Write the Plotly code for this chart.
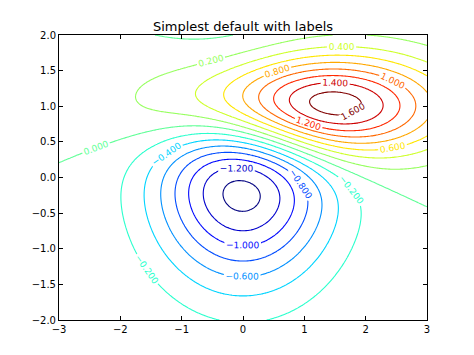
import numpy as np
import plotly.graph_objects as go

# Field described by two Gaussian bumps (difference of Gaussians), parameters
neg_center = [0.0, 0.0]
neg_sigma = [1.0, 1.0]
pos_center = [1.0, 1.0]
pos_sigma = [1.5, 0.5]
amplitude = 10.0
x_range = [-3.0, 3.0]
y_range = [-2.0, 2.0]
step = 0.025

level_start, level_end, level_step = -1.4, 1.6, 0.2
x_ticks = [-3, -2, -1, 0, 1, 2, 3]
y_ticks = [-2.0, -1.5, -1.0, -0.5, 0.0, 0.5, 1.0, 1.5, 2.0]


def bivariate(X, Y, sx, sy, mx, my):
    return np.exp(-0.5 * (((X - mx) / sx) ** 2 + ((Y - my) / sy) ** 2)) / (2 * np.pi * sx * sy)


x = np.arange(x_range[0], x_range[1] + step / 2, step)
y = np.arange(y_range[0], y_range[1] + step / 2, step)
X, Y = np.meshgrid(x, y)
Z = amplitude * (bivariate(X, Y, pos_sigma[0], pos_sigma[1], pos_center[0], pos_center[1])
                 - bivariate(X, Y, neg_sigma[0], neg_sigma[1], neg_center[0], neg_center[1]))

# matplotlib "jet"
red = [(0, 0), (0.35, 0), (0.66, 1), (0.89, 1), (1, 0.5)]
green = [(0, 0), (0.125, 0), (0.375, 1), (0.64, 1), (0.91, 0), (1, 0)]
blue = [(0, 0.5), (0.11, 1), (0.34, 1), (0.65, 0), (1, 0)]
stops = sorted(set([p for p, _ in red + green + blue]))


def interp(seg, t):
    xs = [a for a, _ in seg]
    ys = [b for _, b in seg]
    return float(np.interp(t, xs, ys))


jet = [[t, "rgb(%d,%d,%d)" % (round(255 * interp(red, t)), round(255 * interp(green, t)), round(255 * interp(blue, t)))] for t in stops]

fig = go.Figure(go.Contour(
    x=x, y=y, z=Z,
    contours=dict(start=level_start, end=level_end, size=level_step, coloring="lines",
                  showlabels=True, labelformat=".3f",
                  labelfont=dict(size=9, family="DejaVu Sans")),
    colorscale=jet, zmin=level_start, zmax=level_end, zauto=False,
    line=dict(width=1.1), showscale=False, hoverinfo="skip",
))

axis_common = dict(showline=True, linecolor="black", linewidth=1, mirror="ticks",
                   ticks="inside", ticklen=4, tickcolor="black", showgrid=False, zeroline=False,
                   tickfont=dict(family="DejaVu Sans", size=10, color="black"))
fig.update_xaxes(range=x_range, tickvals=x_ticks, **axis_common)
fig.update_yaxes(range=y_range, tickvals=y_ticks, tickformat=".1f", **axis_common)
fig.update_layout(
    width=458, height=339,
    margin=dict(l=51, r=39, t=27, b=27),
    paper_bgcolor="white", plot_bgcolor="white",
    title=dict(text="Simplest default with labels", x=0.5, xref="paper", y=1, yref="paper",
               yanchor="bottom", pad=dict(b=4),
               font=dict(family="DejaVu Sans", size=13, color="black")),
)
fig.write_html("out.html")
